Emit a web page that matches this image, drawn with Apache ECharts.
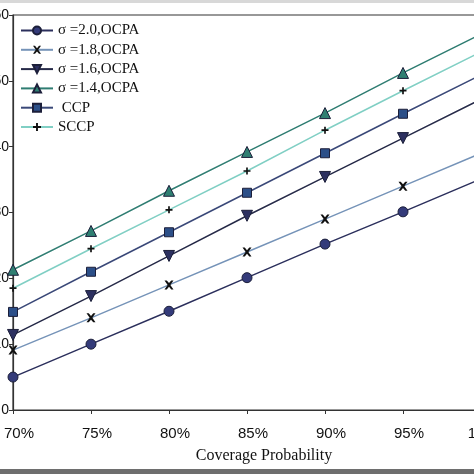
<!DOCTYPE html>
<html>
<head>
<meta charset="utf-8">
<script src="https://cdn.jsdelivr.net/npm/echarts@6/dist/echarts.min.js"></script>
<style>
  html, body { margin: 0; padding: 0; overflow: hidden; background: #fff; }
  #chart { width: 500px; height: 474px; }
</style>
</head>
<body>
<div id="chart"></div>
<script>
const categories = ["70%", "75%", "80%", "85%", "90%", "95%", "100%"];
const yTicks = [0, 10, 20, 30, 40, 50, 60];

const sigma20 = [5.0, 10.0, 15.0, 20.1, 25.2, 30.1, 35.1];
const sigma18 = [9.1, 14.0, 19.0, 24.0, 29.0, 34.0, 39.0];
const sigma16 = [11.4, 17.3, 23.4, 29.5, 35.4, 41.3, 47.2];
const sigma14 = [21.3, 27.2, 33.3, 39.2, 45.1, 51.2, 57.1];
const ccp = [14.9, 21.0, 27.0, 33.0, 39.0, 45.0, 50.9];
const sccp = [18.5, 24.5, 30.4, 36.3, 42.5, 48.5, 54.4];

const crossIcon = "path://M0,0 L2.5,0 L5,3 L7.5,0 L10,0 L6.5,5 L10,10 L7.5,10 L5,7 L2.5,10 L0,10 L3.5,5 Z";
const plusIcon = "path://M3.8,0 H6.2 V3.8 H10 V6.2 H6.2 V10 H3.8 V6.2 H0 V3.8 H3.8 Z";

const chart = echarts.init(document.getElementById("chart"));

const makeSeries = (name, data, lineColor, symbol, fill, size, rotate) => ({
  name,
  type: "line",
  data,
  symbol,
  symbolSize: size,
  symbolRotate: rotate || 0,
  showAllSymbol: true,
  lineStyle: { color: lineColor, width: 1.5 },
  itemStyle: {
    color: fill,
    borderColor: symbol.startsWith("path") ? fill : "#1c1f3a",
    borderWidth: symbol.startsWith("path") ? 0 : 1,
  },
  z: 3,
});

const options = {
  animation: false,
  backgroundColor: "#fff",
  grid: {
    left: 13,
    right: 19,
    top: 15,
    bottom: 64,
    outerBoundsMode: "none",
    containLabel: false,
    show: true,
    borderColor: "#333",
    borderWidth: 1.2,
  },
  legend: {
    orient: "vertical",
    left: 20,
    top: 23,
    padding: 0,
    itemWidth: 32,
    itemHeight: 10,
    itemGap: 4.3,
    textStyle: {
      fontFamily: "Liberation Serif",
      fontSize: 15,
      lineHeight: 12,
      color: "#111",
    },
    data: ["σ =2.0,OCPA", "σ =1.8,OCPA", "σ =1.6,OCPA", "σ =1.4,OCPA", " CCP", "SCCP"],
  },
  xAxis: {
    type: "category",
    data: categories,
    boundaryGap: false,
    axisLine: { lineStyle: { color: "#333", width: 1.2 } },
    axisTick: { show: true, inside: false, length: 4, lineStyle: { color: "#333" } },
    axisLabel: {
      fontFamily: "Liberation Sans",
      fontSize: 15,
      color: "#111",
      margin: 16,
      padding: [0, 0, 0, 12],
    },
    name: "Coverage Probability",
    nameLocation: "middle",
    nameGap: 38,
    nameTextStyle: {
      fontFamily: "Liberation Serif",
      fontSize: 16,
      color: "#111",
      padding: [0, 0, 0, 34],
    },
  },
  yAxis: {
    type: "value",
    min: 0,
    max: 60,
    interval: 10,
    splitLine: { show: false },
    axisLine: { show: true, lineStyle: { color: "#333", width: 1.2 } },
    axisTick: { show: true, length: 4, lineStyle: { color: "#333" } },
    axisLabel: {
      fontFamily: "Liberation Sans",
      fontSize: 14,
      color: "#111",
      margin: 4,
      formatter: (v) => (yTicks.includes(v) ? String(v) : ""),
    },
  },
  graphic: [
    { type: "rect", left: 0, top: 0, shape: { width: 500, height: 3 }, style: { fill: "#d8d8d8" }, z: 100 },
    { type: "rect", left: 0, top: 469, shape: { width: 500, height: 5 }, style: { fill: "#6e6e6e" }, z: 100 },
  ],
  series: [
    makeSeries("σ =2.0,OCPA", sigma20, "#2b2f5c", "circle", "#343b7a", 10),
    makeSeries("σ =1.8,OCPA", sigma18, "#7593b8", crossIcon, "#111111", 9),
    makeSeries("σ =1.6,OCPA", sigma16, "#262a48", "triangle", "#2c3060", 11, 180),
    makeSeries("σ =1.4,OCPA", sigma14, "#2f7d72", "triangle", "#2f7f72", 11),
    makeSeries(" CCP", ccp, "#3a4878", "rect", "#2c4f88", 9),
    makeSeries("SCCP", sccp, "#80cfc4", plusIcon, "#111111", 7),
  ],
};

chart.setOption(options);
</script>
</body>
</html>
